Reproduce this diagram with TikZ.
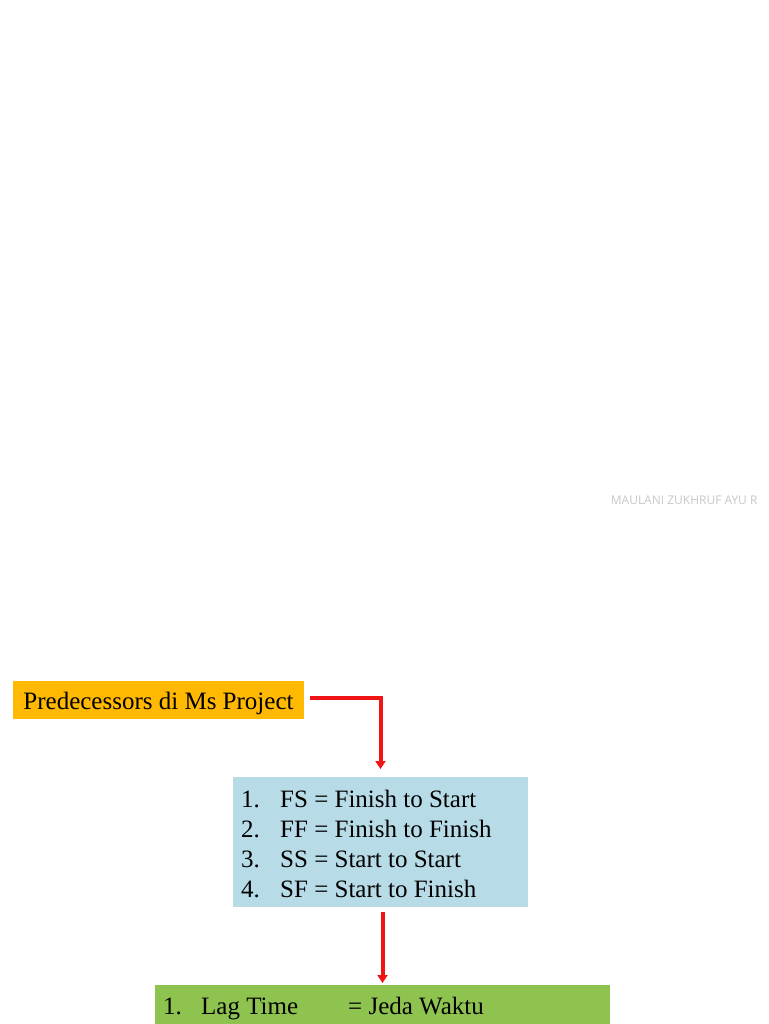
\documentclass[tikz,border=0pt]{standalone}
\usepackage{fontspec}
\setmainfont{Liberation Serif}
\newfontfamily\marksans{Open Sans}
\usetikzlibrary{positioning, arrows.meta}
\definecolor{boxorange}{HTML}{FFB900}
\definecolor{boxblue}{HTML}{B7DCE8}
\definecolor{boxgreen}{HTML}{8FC350}
\definecolor{arrowred}{HTML}{F01414}

\begin{document}
\begin{tikzpicture}[x=1pt, y=-1pt, >={Triangle[length=8pt, width=10pt]},
		box/.style={inner sep=0pt, outer sep=0pt, font=\fontsize{25}{30}\selectfont},
		item/.style={anchor=base west, inner sep=0pt, font=\fontsize{25}{30}\selectfont},
		link/.style={arrowred, line width=4pt, ->}]
			\useasboundingbox (0,0) rectangle (768,1024);

			% watermark
			\node[text=black!22, font=\marksans\fontsize{12}{14}\selectfont, anchor=east] (mark) at (761,500) {MAULANI ZUKHRUF AYU R};

			\node[box, fill=boxorange, minimum width=291pt, minimum height=38pt, text height=20pt, text depth=2pt] (pred) at (158.5,700) {Predecessors di Ms Project};

			\node[box, fill=boxblue, minimum width=295pt, minimum height=130pt] (types) at (380.5,842) {};
			\foreach \t [count=\i] in {FS = Finish to Start, FF = Finish to Finish, SS = Start to Start, SF = Start to Finish}
			{
				\node[item] (num\i) at (241,777+30*\i) {\i.};
				\node[item] (type\i) at (280,777+30*\i) {\t};
			}

			\node[box, fill=boxgreen, minimum width=455pt, minimum height=50pt] (lag) at (382.5,1010) {};
			\node[item] (lagnum) at (163,1014) {1.};
			\node[item] (lagname) at (201,1014) {Lag Time};
			\node[item] (lagmean) at (348,1014) {= Jeda Waktu};

			\draw[link] ([xshift=6pt, yshift=2pt]pred.east) -| ([yshift=8pt]types.north);
			\draw[link] ([xshift=2pt, yshift=-5pt]types.south) -- ([xshift=2pt, yshift=2pt]types.south |- lag.north);
		\end{tikzpicture}
\end{document}
